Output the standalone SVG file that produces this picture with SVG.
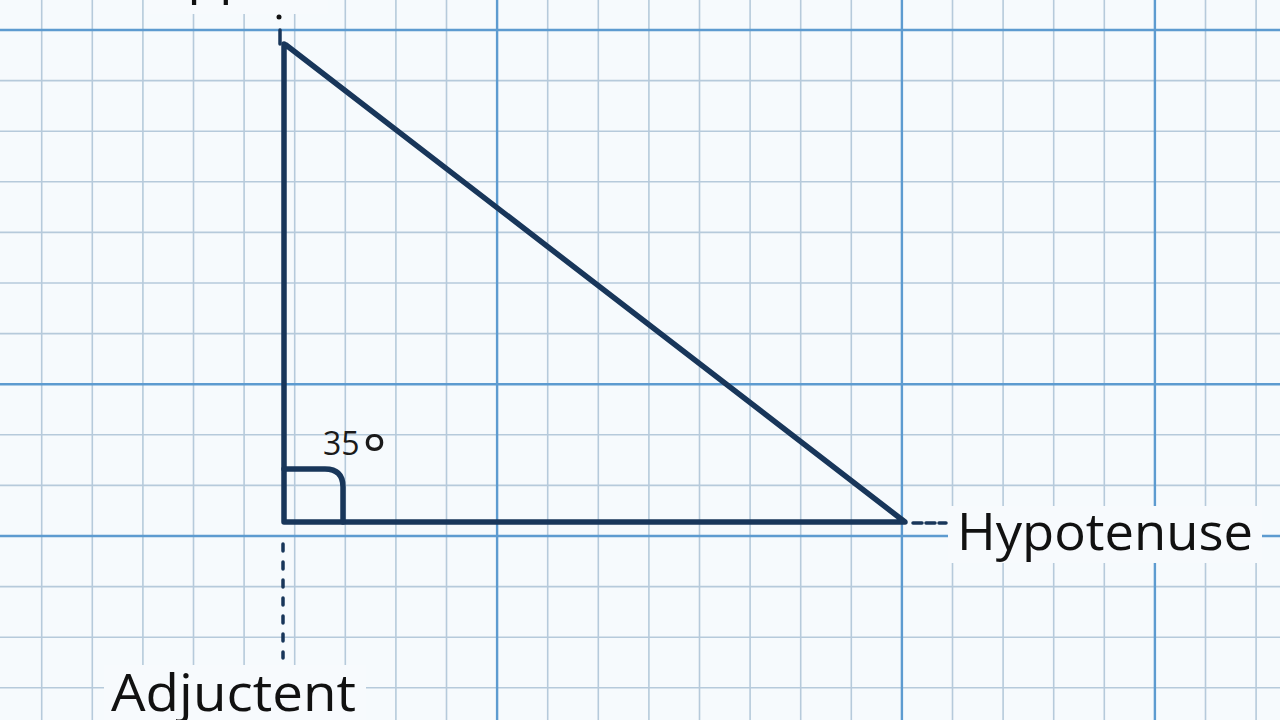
<svg xmlns="http://www.w3.org/2000/svg" width="1280" height="720" viewBox="0 0 1280 720">
<style>
.minor{stroke:#b6cadb;stroke-width:1.6;fill:none}
.major{stroke:#5d9bd0;stroke-width:2.4;fill:none}
.halo{fill:#f7fafd}
.edge{stroke:#18365a;stroke-width:5.5;fill:none;stroke-linecap:round;stroke-linejoin:round}
.guide{stroke:#18365a;stroke-width:3.5;fill:none;stroke-linecap:round}
.lbl{font-family:"Open Sans","Noto Sans","Liberation Sans",sans-serif;fill:#111;font-size:52px}
.ang{font-family:"Open Sans","Noto Sans","Liberation Sans",sans-serif;fill:#1a1a1a;font-size:32px}
</style>
<rect width="1280" height="720" fill="#f6fafd"/>
<g id="grid">
<path class="minor" d="M41.7,0V720M92.3,0V720M142.9,0V720M193.5,0V720M244.1,0V720M294.7,0V720M345.3,0V720M395.9,0V720M446.5,0V720M547.7,0V720M598.3,0V720M648.9,0V720M699.5,0V720M750.1,0V720M800.7,0V720M851.3,0V720M952.5,0V720M1003.1,0V720M1053.7,0V720M1104.3,0V720M1205.5,0V720M1256.1,0V720"/>
<path class="minor" d="M0,80.6H1280M0,131.2H1280M0,181.8H1280M0,232.4H1280M0,283H1280M0,333.6H1280M0,434.8H1280M0,485.4H1280M0,586.6H1280M0,637.2H1280M0,687.8H1280"/>
<path class="major" d="M497.1,0V720M901.9,0V720M1154.9,0V720M0,30H1280M0,384.2H1280M0,536H1280"/>
</g>
<g id="halos">
<rect class="halo" x="146" y="0" width="182" height="14"/>
<rect class="halo" x="948" y="506" width="314" height="57"/>
<rect class="halo" x="104" y="665" width="262" height="55"/>
</g>
<g id="connectors">
<path class="guide" d="M280,30V44"/>
<circle cx="279" cy="17" r="2.5" fill="#111"/>
<path class="guide" d="M283,544V658" stroke-dasharray="7 11"/>
<path class="guide" d="M913,523H946" stroke-dasharray="9 4"/>
</g>
<g id="triangle">
<path class="edge" d="M284,44V522H905L286,45"/>
<path class="edge" d="M284,469H325Q343,469 343,487V522"/>
</g>
<g id="labels">
<text class="lbl" x="147" y="-7.5">Opposite</text>
<text class="lbl" x="957" y="550" textLength="296" lengthAdjust="spacingAndGlyphs">Hypotenuse</text>
<text class="lbl" x="111" y="711" font-size="54" textLength="245" lengthAdjust="spacingAndGlyphs">Adjuctent</text>
<text class="ang" x="323" y="455">35<tspan font-size="56" dx="3" dy="20">°</tspan></text>
</g>
</svg>
